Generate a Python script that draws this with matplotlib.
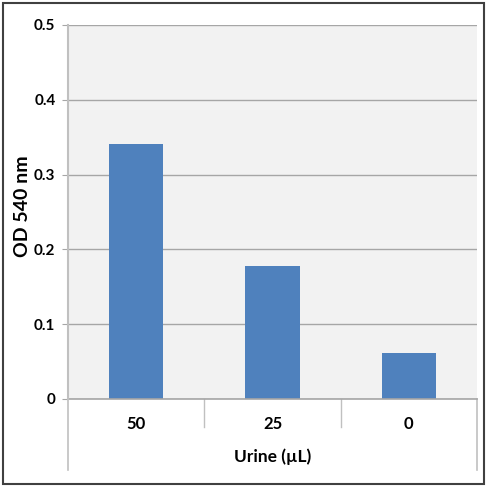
import matplotlib.pyplot as plt
from matplotlib.patches import Rectangle

plt.rcParams['font.family'] = ['Lato', 'DejaVu Sans']

categories = ['50', '25', '0']
od = [0.341, 0.178, 0.062]
yticks = [0, 0.1, 0.2, 0.3, 0.4, 0.5]
ytick_labels = ['0', '0.1', '0.2', '0.3', '0.4', '0.5']

fig = plt.figure(figsize=(4.87, 4.87), dpi=100)
# outer frame
fig.patches.append(Rectangle((0.006, 0.006), 0.988, 0.988, transform=fig.transFigure,
                             fill=False, edgecolor='#404040', linewidth=1.5))

ax = fig.add_axes([68/487, 1 - 399/487, 409/487, 374/487])
ax.set_facecolor('#f2f2f2')

x = range(len(categories))
ax.bar(x, od, width=0.4, color='#4f81bd', zorder=3)

ax.set_xlim(-0.5, 2.5)
ax.set_ylim(0, 0.5)
ax.set_yticks(yticks)
ax.set_yticklabels(ytick_labels)
ax.set_xticks(list(x))
ax.set_xticklabels(categories)

for s in ['top', 'right', 'bottom']:
    ax.spines[s].set_visible(False)
ax.spines['left'].set_color('#c0c0c0')
ax.spines['left'].set_linewidth(1.5)
ax.spines['left'].set_zorder(4)

ax.grid(True, axis='y', color='#a6a6a6', linewidth=1, zorder=1)
ax.axhline(0, color='#a6a6a6', linewidth=1.2, zorder=4, clip_on=False)

ax.tick_params(axis='y', length=4, color='#a6a6a6', pad=5, labelsize=11)
ax.tick_params(axis='x', length=0, pad=12, labelsize=12)
for lab in ax.get_xticklabels() + ax.get_yticklabels():
    lab.set_fontweight('bold')

# category separators below the axis
for xs in [0.5, 1.5]:
    ax.plot([xs, xs], [0, -0.075 * 0.5], color='#c0c0c0', linewidth=1, clip_on=False)
for xs in [-0.5, 2.5]:
    ax.plot([xs, xs], [0, -0.19 * 0.5], color='#c0c0c0', linewidth=1.2, clip_on=False)

ax.set_xlabel('Urine (µL)', fontsize=12.5, fontweight='bold', labelpad=12)
ax.set_ylabel('OD 540 nm', fontsize=14, fontweight='bold', va='center')
ax.yaxis.set_label_coords(-46/409, 0.5 + 6/374)

fig.savefig('out.png', dpi=100)
